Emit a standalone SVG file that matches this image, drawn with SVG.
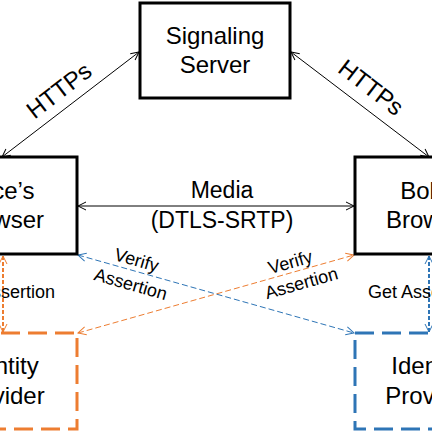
<svg xmlns="http://www.w3.org/2000/svg" width="432" height="432" viewBox="0 0 432 432">
<defs>
<style>
.box{fill:#fff;stroke:#000;stroke-width:3}
.idpO{fill:#fff;stroke:#ED7D31;stroke-width:3;stroke-dasharray:19 8}
.idpB{fill:#fff;stroke:#2E75B6;stroke-width:3;stroke-dasharray:19 8}
.t{font-family:"Liberation Sans",Arial,sans-serif;fill:#000;text-anchor:middle}
.big{font-size:24px}
.sm{font-size:18px}
.blk{stroke:#000;stroke-width:1;fill:none;marker-start:url(#aK);marker-end:url(#aK)}
.or{stroke:#ED7D31;stroke-width:1;fill:none;stroke-dasharray:6 3;marker-start:url(#aO);marker-end:url(#aO)}
.bl{stroke:#2E75B6;stroke-width:1;fill:none;stroke-dasharray:6 3;marker-start:url(#aB);marker-end:url(#aB)}
.orv{stroke:#ED7D31;stroke-width:2;fill:none;stroke-dasharray:4 2;marker-start:url(#aO);marker-end:url(#aO)}
.blv{stroke:#2E75B6;stroke-width:2;fill:none;stroke-dasharray:4 2;marker-start:url(#aB);marker-end:url(#aB)}
</style>
<marker id="aK" markerUnits="userSpaceOnUse" markerWidth="12" markerHeight="12" refX="9" refY="5" orient="auto-start-reverse" viewBox="0 0 12 12"><path d="M1,1 L9,5 L1,9" fill="none" stroke="#000" stroke-width="1"/></marker>
<marker id="aO" markerUnits="userSpaceOnUse" markerWidth="12" markerHeight="12" refX="9" refY="5" orient="auto-start-reverse" viewBox="0 0 12 12"><path d="M1,1 L9,5 L1,9" fill="none" stroke="#ED7D31" stroke-width="1"/></marker>
<marker id="aB" markerUnits="userSpaceOnUse" markerWidth="12" markerHeight="12" refX="9" refY="5" orient="auto-start-reverse" viewBox="0 0 12 12"><path d="M1,1 L9,5 L1,9" fill="none" stroke="#2E75B6" stroke-width="1"/></marker>
</defs>
<rect x="0" y="0" width="432" height="432" fill="#fff"/>
<g id="connectors">
<line class="blk" x1="2" y1="157" x2="139" y2="52"/>
<line class="blk" x1="291" y1="52" x2="429" y2="157"/>
<line class="blk" x1="78" y1="206" x2="354" y2="206"/>
<line class="bl" x1="78" y1="255" x2="354" y2="333"/>
<line class="or" x1="78" y1="333" x2="354" y2="255"/>
<line class="orv" x1="3" y1="256" x2="3" y2="332"/>
<line class="blv" x1="429" y1="256" x2="429" y2="332"/>
<text class="t big" transform="translate(64,97) rotate(-37.5)" x="0" y="0">HTTPs</text>
<text class="t big" transform="translate(366,94) rotate(37.5)" x="0" y="0">HTTPs</text>
<text class="t" style="font-size:23px" x="222" y="198">Media</text>
<text class="t" style="font-size:23px" x="222" y="228">(DTLS-SRTP)</text>
<text class="t sm" transform="translate(135,266) rotate(16)">Verify</text>
<text class="t sm" transform="translate(129,290) rotate(16)">Assertion</text>
<text class="t sm" transform="translate(292,268) rotate(-16)">Verify</text>
<text class="t sm" transform="translate(303,289) rotate(-16)">Assertion</text>
<text class="t sm" style="text-anchor:end" x="55" y="298">Get Assertion</text>
<text class="t sm" style="text-anchor:start" x="368" y="298">Get Assertion</text>
</g>
<g id="signaling">
<rect class="box" x="140" y="3" width="150" height="95"/>
<text class="t big" x="215" y="44">Signaling</text>
<text class="t big" x="215" y="73">Server</text>
</g>
<g id="alice-browser">
<rect class="box" x="-80" y="157" width="157" height="97"/>
<text class="t big" x="0" y="199">Alice’s</text>
<text class="t big" x="0" y="228">Browser</text>
</g>
<g id="bob-browser">
<rect class="box" x="355" y="157" width="160" height="97"/>
<text class="t big" x="430" y="199">Bob’s</text>
<text class="t big" x="430" y="228">Browser</text>
</g>
<g id="alice-idp">
<rect class="idpO" x="-80" y="333" width="157" height="96"/>
<text class="t big" x="0" y="374">Identity</text>
<text class="t big" x="0" y="404">Provider</text>
</g>
<g id="bob-idp">
<rect class="idpB" x="355" y="333" width="160" height="96"/>
<text class="t big" x="430" y="374">Identity</text>
<text class="t big" x="430" y="404">Provider</text>
</g>
</svg>
